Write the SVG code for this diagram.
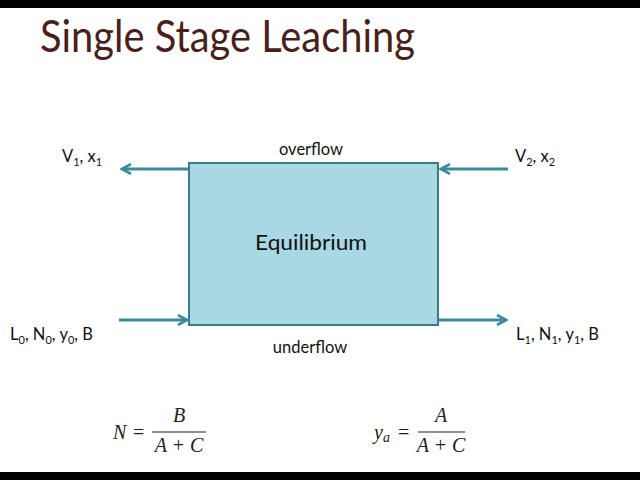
<svg xmlns="http://www.w3.org/2000/svg" width="640" height="480" viewBox="0 0 640 480">
<style>
.lbl{font-family:Lato,"Open Sans",sans-serif;font-size:16.5px;fill:#111}
.sub{font-size:11px}
.math{font-family:"Liberation Serif",serif;font-style:italic;font-size:20px;fill:#222}
.mathu{font-family:"Liberation Serif",serif;font-size:20px;fill:#222}
.conn{stroke:#3d8a9b;stroke-width:3;fill:none}
</style>
<defs>
<marker id="ah" viewBox="0 0 12 12" refX="10" refY="6" markerWidth="12" markerHeight="12" markerUnits="userSpaceOnUse" orient="auto">
<path d="M1,1 L10,6 L1,11" fill="none" stroke="#3d8a9b" stroke-width="2.6"/>
</marker>
</defs>
<rect x="0" y="0" width="640" height="480" fill="#fff"/>
<rect x="0" y="0" width="640" height="8" fill="#000"/>
<rect x="0" y="472" width="640" height="8" fill="#000"/>
<text x="40" y="52" font-family="Lato,'Open Sans',sans-serif" font-size="44" fill="#4a1f1b" textLength="375" lengthAdjust="spacingAndGlyphs">Single Stage Leaching</text>
<g id="equilibrium">
<rect x="189" y="163" width="249" height="162" fill="#a9d7e3" stroke="#3b7a88" stroke-width="2"/>
<text x="311" y="250" text-anchor="middle" font-family="Lato,'Open Sans',sans-serif" font-size="22" fill="#111" textLength="112" lengthAdjust="spacingAndGlyphs">Equilibrium</text>
</g>
<g id="connectors">
<line class="conn" x1="188" y1="169" x2="122" y2="169" marker-end="url(#ah)"/>
<line class="conn" x1="508" y1="169" x2="441" y2="169" marker-end="url(#ah)"/>
<line class="conn" x1="119" y1="320" x2="187" y2="320" marker-end="url(#ah)"/>
<line class="conn" x1="439" y1="320" x2="506" y2="320" marker-end="url(#ah)"/>
<text class="lbl" x="311" y="155" text-anchor="middle">overflow</text>
<text class="lbl" x="310" y="353" text-anchor="middle">underflow</text>
</g>
<g id="v1"><text class="lbl" x="62" y="162">V<tspan class="sub" dy="4">1</tspan><tspan dy="-4">, x</tspan><tspan class="sub" dy="4">1</tspan></text></g>
<g id="v2"><text class="lbl" x="515" y="162">V<tspan class="sub" dy="4">2</tspan><tspan dy="-4">, x</tspan><tspan class="sub" dy="4">2</tspan></text></g>
<g id="l0"><text class="lbl" x="10" y="340">L<tspan class="sub" dy="4">0</tspan><tspan dy="-4">, N</tspan><tspan class="sub" dy="4">0</tspan><tspan dy="-4">, y</tspan><tspan class="sub" dy="4">0</tspan><tspan dy="-4">, B</tspan></text></g>
<g id="l1"><text class="lbl" x="516" y="340">L<tspan class="sub" dy="4">1</tspan><tspan dy="-4">, N</tspan><tspan class="sub" dy="4">1</tspan><tspan dy="-4">, y</tspan><tspan class="sub" dy="4">1</tspan><tspan dy="-4">, B</tspan></text></g>
<g id="formula-n">
<text class="math" x="113" y="439">N</text>
<text class="mathu" x="133" y="439">=</text>
<line x1="152" y1="432" x2="206" y2="432" stroke="#222" stroke-width="1.2"/>
<text class="math" x="179" y="422" text-anchor="middle">B</text>
<text class="math" x="179" y="452" text-anchor="middle">A<tspan class="mathu"> + </tspan>C</text>
</g>
<g id="formula-y">
<text class="math" x="374" y="439">y<tspan font-size="14" dy="3">a</tspan></text>
<text class="mathu" x="398" y="439">=</text>
<line x1="418" y1="432" x2="465" y2="432" stroke="#222" stroke-width="1.2"/>
<text class="math" x="441" y="422" text-anchor="middle">A</text>
<text class="math" x="441" y="452" text-anchor="middle">A<tspan class="mathu"> + </tspan>C</text>
</g>
</svg>
